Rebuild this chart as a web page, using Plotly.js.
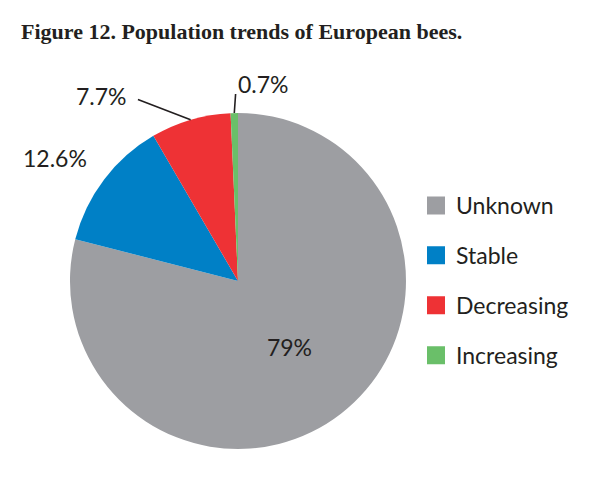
<!DOCTYPE html>
<html>
<head>
<meta charset="utf-8">
<script src="https://cdn.plot.ly/plotly-3.0.1.min.js"></script>
<style>
    html, body { margin: 0; padding: 0; background: #ffffff; }
    #chart { width: 592px; height: 480px; }
</style>
</head>
<body>
<div id="chart"></div>
<script>
// Population trends of European bees (share of species, %)
var categories = ['Unknown', 'Stable', 'Decreasing', 'Increasing'];
var shares = [79, 12.6, 7.7, 0.7];
var sliceColors = ['#9d9ea2', '#0080c6', '#ee3235', '#6abf69'];

var textColor = '#231f20';
var sansFont = 'Lato, "Open Sans", sans-serif';
var W = 592, H = 480;
var pieDomain = { x: [0.118, 0.686], y: [0.0646, 0.7646] };

// where each outside label sits relative to the edge of its slice
// [dx, dy, xanchor, yanchor, leader line]
var labelPlacement = [
    null,
    [-15, -22, 'right', 'middle', false],
    [-62, -24, 'right', 'middle', true],
    [2, -29, 'left', 'middle', true]
];

var pie = {
    type: 'pie',
    labels: categories,
    values: shares,
    sort: false,
    direction: 'clockwise',
    rotation: 0,
    marker: { colors: sliceColors, line: { width: 0 } },
    texttemplate: '%{value}%',
    textposition: labelPlacement.map(function(p) { return p ? 'none' : 'inside'; }),
    insidetextorientation: 'horizontal',
    textfont: { family: sansFont, size: 23, color: textColor },
    showlegend: false,
    hoverinfo: 'label+value',
    domain: pieDomain
};

// pie geometry in pixels, the same way plotly sizes it from the domain
var boxW = (pieDomain.x[1] - pieDomain.x[0]) * W;
var boxH = (pieDomain.y[1] - pieDomain.y[0]) * H;
var radius = Math.min(boxW, boxH) / 2;
var cx = (pieDomain.x[0] + pieDomain.x[1]) / 2 * W;
var cy = (1 - (pieDomain.y[0] + pieDomain.y[1]) / 2) * H;
var total = shares.reduce(function(a, b) { return a + b; }, 0);

var annotations = [];
var before = 0;
shares.forEach(function(v, i) {
    var mid = (before + v / 2) / total * 2 * Math.PI;
    before += v;
    var p = labelPlacement[i];
    if (!p) return;
    var px = cx + radius * Math.sin(mid);
    var py = cy - radius * Math.cos(mid);
    annotations.push({
        text: v + '%',
        xref: 'paper',
        yref: 'paper',
        x: px / W,
        y: 1 - py / H,
        ax: p[0],
        ay: p[1],
        xshift: p[4] ? 0 : p[0],
        yshift: p[4] ? 0 : -p[1],
        xanchor: p[2],
        yanchor: p[3],
        showarrow: p[4],
        arrowhead: 0,
        arrowwidth: 1.6,
        arrowcolor: textColor,
        startstandoff: 10,
        standoff: 0,
        font: { family: sansFont, size: 23, color: textColor }
    });
});

// legend entries, one per category, so the rows can be spaced out
var legendEntries = categories.map(function(name, i) {
    return {
        type: 'scatter',
        mode: 'markers',
        x: [null],
        y: [null],
        name: name,
        legendgroup: 'g' + i,
        marker: { symbol: 'square', size: 16, color: sliceColors[i], line: { width: 2, color: sliceColors[i] } },
        hoverinfo: 'skip'
    };
});

var layout = {
    width: W,
    height: H,
    margin: { t: 0, r: 0, b: 0, l: 0 },
    paper_bgcolor: '#ffffff',
    plot_bgcolor: '#ffffff',
    font: { family: sansFont, color: textColor },
    title: {
        text: '<b>Figure 12. Population trends of European bees.</b>',
        font: { family: '"Liberation Serif", "DejaVu Serif", serif', size: 22, color: textColor },
        x: 21 / W,
        xref: 'paper',
        xanchor: 'left',
        y: 1 - 31 / H,
        yref: 'container',
        yanchor: 'middle'
    },
    xaxis: { visible: false },
    yaxis: { visible: false },
    annotations: annotations,
    legend: {
        x: 416 / W,
        xanchor: 'left',
        y: 1 - 184 / H,
        yanchor: 'top',
        font: { family: sansFont, size: 23, color: textColor },
        tracegroupgap: 17,
        bgcolor: 'rgba(0,0,0,0)'
    },
    showlegend: true
};

Plotly.newPlot('chart', [pie].concat(legendEntries), layout, { displayModeBar: false, responsive: false });
</script>
</body>
</html>
